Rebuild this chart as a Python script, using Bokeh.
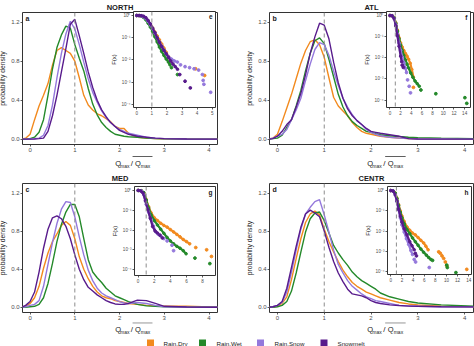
from bokeh.plotting import figure
from bokeh.layouts import column, row
from bokeh.models import (Range1d, FixedTicker, PrintfTickFormatter,
                          CustomJSTickFormatter, Span, Label, ColumnDataSource)
from bokeh.core.properties import value
from bokeh.embed import file_html
from bokeh.resources import INLINE

FONT = "Liberation Sans"
INK = "#1A1A1A"
TICK_INK = "#4D4D4D"
FRAME = "#333333"

SERIES = ["Rain.Dry", "Rain.Wet", "Rain.Snow", "Snowmelt"]
COLORS = ["#F28A1E", "#24892A", "#9478DC", "#581B8C"]
REGIONS = ["NORTH", "ATL", "MED", "CENTR"]
MAIN_LETTERS = ["a", "b", "c", "d"]
INSET_LETTERS = ["e", "f", "g", "h"]
MAIN_X_TICKS = [0, 1, 2, 3, 4]
MAIN_Y_TICKS = [0.0, 0.4, 0.8, 1.2]
INSET_Y_TICKS = [1e-4, 1e-3, 1e-2, 1e-1, 1.0]
INSET_X_TICKS = [[0, 1, 2, 3, 4, 5], [0, 2, 4, 6, 8, 10, 12, 14],
                 [0, 2, 4, 6, 8], [0, 2, 4, 6, 8, 10, 12, 14]]
THRESHOLD = 1.0
XLABEL_PARTS = ["Q", "max", "/", "Q", "max"]

# ---------------- density curves (x grid shared) ----------------
DENS_X = [-0.2, -0.1, 0.0, 0.1, 0.2, 0.3, 0.4, 0.5, 0.6, 0.7, 0.8, 0.9, 1.0,
          1.1, 1.2, 1.3, 1.4, 1.5, 1.6, 1.7, 1.8, 1.9, 2.0, 2.1, 2.2,
          2.4, 2.6, 2.8, 3.0, 3.5, 4.2]

north_dry = [0, 0.01, 0.05, 0.2, 0.34, 0.45, 0.57, 0.76, 0.91, 0.94, 0.91, 0.88, 0.80,
             0.63, 0.45, 0.35, 0.30, 0.26, 0.24, 0.21, 0.18, 0.13, 0.11, 0.11, 0.06,
             0.02, 0.01, 0.005, 0.003, 0.001, 0]
north_wet = [0, 0, 0.005, 0.02, 0.07, 0.2, 0.45, 0.72, 0.94, 1.07, 1.16, 1.14, 0.97,
             0.83, 0.70, 0.52, 0.36, 0.25, 0.17, 0.12, 0.08, 0.05, 0.04, 0.03, 0.025,
             0.02, 0.01, 0.005, 0.003, 0.001, 0]
north_snow = [0, 0, 0.002, 0.005, 0.01, 0.04, 0.14, 0.35, 0.63, 0.88, 1.08, 1.21, 1.13,
              0.97, 0.79, 0.62, 0.48, 0.38, 0.29, 0.22, 0.17, 0.13, 0.10, 0.08, 0.06,
              0.04, 0.02, 0.01, 0.005, 0.002, 0]
north_melt = [0, 0, 0, 0.002, 0.005, 0.01, 0.08, 0.24, 0.45, 0.69, 0.93, 1.18, 1.23,
              1.06, 0.88, 0.69, 0.53, 0.40, 0.30, 0.23, 0.17, 0.13, 0.09, 0.07, 0.05,
              0.03, 0.02, 0.01, 0.005, 0.002, 0]

atl_dry = [0, 0.01, 0.05, 0.18, 0.32, 0.46, 0.62, 0.78, 0.91, 1.0, 1.02, 0.97, 0.84,
           0.63, 0.43, 0.34, 0.29, 0.24, 0.17, 0.12, 0.08, 0.06, 0.05, 0.04, 0.03,
           0.02, 0.01, 0.005, 0.003, 0.002, 0]
atl_wet = [0, 0.005, 0.01, 0.04, 0.12, 0.2, 0.34, 0.5, 0.7, 0.88, 1.01, 1.04, 0.98,
           0.82, 0.64, 0.46, 0.33, 0.24, 0.18, 0.14, 0.11, 0.08, 0.07, 0.055, 0.045,
           0.035, 0.027, 0.02, 0.016, 0.01, 0.005]
atl_snow = [0, 0.01, 0.03, 0.05, 0.1, 0.2, 0.3, 0.42, 0.6, 0.77, 0.92, 0.99, 0.97,
            0.86, 0.7, 0.55, 0.42, 0.33, 0.25, 0.19, 0.15, 0.1, 0.07, 0.05, 0.035,
            0.02, 0.01, 0.005, 0.002, 0.001, 0]
atl_melt = [0, 0.005, 0.03, 0.08, 0.15, 0.2, 0.33, 0.47, 0.66, 0.88, 1.05, 1.19, 1.17,
            1.03, 0.79, 0.58, 0.42, 0.31, 0.24, 0.19, 0.15, 0.11, 0.08, 0.07, 0.06,
            0.045, 0.03, 0.005, 0.001, 0, 0]

med_dry = [0, 0.01, 0.04, 0.1, 0.22, 0.41, 0.57, 0.69, 0.77, 0.86, 0.9, 0.86, 0.72,
           0.53, 0.4, 0.3, 0.22, 0.16, 0.12, 0.1, 0.09, 0.07, 0.06, 0.05, 0.04,
           0.03, 0.02, 0.015, 0.01, 0.01, 0]
med_wet = [0, 0, 0.005, 0.01, 0.03, 0.1, 0.25, 0.46, 0.69, 0.87, 1.0, 1.08, 1.08,
           0.95, 0.72, 0.5, 0.37, 0.31, 0.26, 0.2, 0.16, 0.12, 0.1, 0.08, 0.06,
           0.03, 0.015, 0.01, 0.005, 0.002, 0]
med_snow = [0, 0.005, 0.02, 0.03, 0.07, 0.22, 0.45, 0.68, 0.88, 1.03, 1.11, 1.1, 0.95,
            0.74, 0.55, 0.39, 0.28, 0.2, 0.15, 0.12, 0.1, 0.08, 0.06, 0.045, 0.04,
            0.05, 0.04, 0.02, 0.005, 0.002, 0]
med_melt = [0, 0.02, 0.06, 0.16, 0.37, 0.62, 0.82, 0.94, 0.96, 0.93, 0.85, 0.72, 0.55,
            0.4, 0.29, 0.21, 0.17, 0.13, 0.1, 0.07, 0.05, 0.035, 0.03, 0.03, 0.04,
            0.075, 0.07, 0.04, 0.01, 0.002, 0]

centr_dry = [0, 0.002, 0.01, 0.04, 0.11, 0.29, 0.51, 0.72, 0.89, 0.98, 1.01, 0.97, 0.82,
             0.69, 0.58, 0.48, 0.39, 0.32, 0.26, 0.22, 0.19, 0.16, 0.14, 0.12, 0.1,
             0.075, 0.05, 0.035, 0.025, 0.01, 0.004]
centr_wet = [0, 0, 0.005, 0.02, 0.06, 0.17, 0.36, 0.58, 0.79, 0.93, 0.99, 1.0, 0.91,
             0.78, 0.65, 0.57, 0.5, 0.44, 0.37, 0.32, 0.28, 0.25, 0.22, 0.19, 0.15,
             0.11, 0.085, 0.06, 0.045, 0.025, 0.01]
centr_snow = [0, 0.005, 0.02, 0.05, 0.16, 0.37, 0.6, 0.82, 0.98, 1.05, 1.11, 1.13, 0.97,
              0.79, 0.6, 0.45, 0.36, 0.28, 0.22, 0.18, 0.14, 0.11, 0.09, 0.07, 0.06,
              0.04, 0.02, 0.015, 0.01, 0.005, 0.002]
centr_melt = [0, 0.005, 0.02, 0.06, 0.2, 0.42, 0.64, 0.84, 0.98, 1.02, 0.99, 0.95, 0.8,
              0.63, 0.48, 0.36, 0.27, 0.19, 0.14, 0.13, 0.12, 0.1, 0.07, 0.05, 0.04,
              0.025, 0.018, 0.012, 0.01, 0.006, 0.004]

# ---------------- inset exceedance points: dense part + sparse tail ----------------
north_dry_x = [0.0, 0.15, 0.3, 0.45, 0.6, 0.75, 0.9, 1.05, 1.2, 1.35, 1.5, 1.65, 1.8, 1.95, 2.1, 2.25]
north_dry_F = [1.0, 0.99, 0.95, 0.86, 0.72, 0.55, 0.40, 0.27, 0.18, 0.12, 0.08, 0.052, 0.034, 0.022, 0.014, 0.009]
north_dry_tx = [3.9, 4.5]
north_dry_tF = [0.004, 0.002]
north_wet_x = [0.0, 0.15, 0.3, 0.45, 0.6, 0.75, 0.9, 1.05, 1.2, 1.35, 1.5, 1.65, 1.8, 1.95, 2.1, 2.2]
north_wet_F = [1.0, 0.99, 0.94, 0.82, 0.64, 0.45, 0.30, 0.19, 0.11, 0.065, 0.038, 0.024, 0.016, 0.011, 0.008, 0.006]
north_wet_tx = [2.3, 2.7]
north_wet_tF = [0.0045, 0.0022]
north_snow_x = [0.0, 0.15, 0.3, 0.45, 0.6, 0.75, 0.9, 1.05, 1.2, 1.35, 1.5, 1.65, 1.8, 1.95, 2.1, 2.3, 2.5, 2.7]
north_snow_F = [1.0, 0.99, 0.96, 0.88, 0.73, 0.55, 0.38, 0.25, 0.16, 0.1, 0.065, 0.042, 0.028, 0.019, 0.014, 0.011, 0.009, 0.008]
north_snow_tx = [2.9, 3.2, 3.5, 3.8, 4.1, 4.35, 4.4, 4.45, 4.9]
north_snow_tF = [0.006, 0.005, 0.0045, 0.004, 0.0035, 0.0022, 0.0012, 0.0008, 0.00035]
north_melt_x = [0.0, 0.15, 0.3, 0.45, 0.6, 0.75, 0.9, 1.05, 1.2, 1.35, 1.5, 1.65, 1.8, 1.95, 2.1, 2.25, 2.4, 2.55, 2.7]
north_melt_F = [1.0, 1.0, 0.98, 0.93, 0.8, 0.6, 0.42, 0.27, 0.17, 0.1, 0.062, 0.04, 0.027, 0.019, 0.013, 0.009, 0.0065, 0.005, 0.0038]
north_melt_tx = [2.85, 3.2, 3.55]
north_melt_tF = [0.0022, 0.0011, 0.00055]

atl_dry_x = [0.0, 0.4, 0.8, 1.1, 1.4, 1.7, 2.0, 2.3, 2.6, 2.9, 3.2, 3.5, 3.8, 4.1, 4.4]
atl_dry_F = [1.0, 0.98, 0.8, 0.45, 0.2, 0.09, 0.05, 0.032, 0.022, 0.016, 0.012, 0.0085, 0.0055, 0.0028, 0.0012]
atl_dry_tx = [4.4]
atl_dry_tF = [0.0004]
atl_wet_x = [0.0, 0.4, 0.8, 1.1, 1.4, 1.7, 2.0, 2.3, 2.6, 2.9, 3.2, 3.5, 3.9, 4.3, 4.7, 5.1, 5.5]
atl_wet_F = [1.0, 0.98, 0.78, 0.42, 0.18, 0.08, 0.04, 0.022, 0.013, 0.008, 0.005, 0.0033, 0.0019, 0.0012, 0.0008, 0.0006, 0.00045]
atl_wet_tx = [5.8, 8.6, 14.05, 14.4]
atl_wet_tF = [0.0003, 0.0002, 0.00013, 0.00007]
atl_snow_x = [0.0, 0.4, 0.8, 1.1, 1.4, 1.7, 2.0, 2.3, 2.6, 2.9, 3.1]
atl_snow_F = [1.0, 0.97, 0.72, 0.35, 0.13, 0.05, 0.022, 0.011, 0.006, 0.0032, 0.002]
atl_snow_tx = [3.3, 3.6, 3.85]
atl_snow_tF = [0.0009, 0.00045, 0.00022]
atl_melt_x = [0.0, 0.4, 0.8, 1.1, 1.4, 1.7, 2.0, 2.2]
atl_melt_F = [1.0, 0.97, 0.7, 0.32, 0.11, 0.035, 0.012, 0.0065]
atl_melt_tx = [2.3, 2.5]
atl_melt_tF = [0.0045, 0.0035]

med_dry_x = [0.0, 0.4, 0.7, 1.0, 1.3, 1.6, 2.0, 2.4, 2.8, 3.2, 3.6, 4.0, 4.4, 4.8, 5.2, 5.6, 6.0, 6.4]
med_dry_F = [1.0, 0.96, 0.75, 0.35, 0.15, 0.075, 0.042, 0.03, 0.022, 0.017, 0.014, 0.0105, 0.008, 0.006, 0.0045, 0.0033, 0.0026, 0.002]
med_dry_tx = [7.15, 8.5, 9.1]
med_dry_tF = [0.0013, 0.001, 0.00046]
med_wet_x = [0.0, 0.4, 0.7, 1.0, 1.3, 1.6, 2.0, 2.4, 2.8, 3.2, 3.6, 4.0, 4.4, 4.8, 5.2, 5.6, 5.95]
med_wet_F = [1.0, 0.97, 0.78, 0.33, 0.13, 0.06, 0.03, 0.018, 0.011, 0.0068, 0.0042, 0.0028, 0.002, 0.0015, 0.0012, 0.0009, 0.00063]
med_wet_tx = [7.05, 8.9]
med_wet_tF = [0.00038, 0.0002]
med_snow_x = [0.0, 0.4, 0.7, 1.0, 1.3, 1.6, 1.9, 2.2, 2.5]
med_snow_F = [1.0, 0.93, 0.6, 0.2, 0.08, 0.035, 0.016, 0.008, 0.006]
med_snow_tx = [2.8, 3.2, 3.6, 4.2, 4.4]
med_snow_tF = [0.005, 0.0037, 0.0028, 0.0017, 0.0009]
med_melt_x = [0.0, 0.3, 0.6, 0.9, 1.2, 1.5, 1.8, 2.1, 2.4]
med_melt_F = [1.0, 0.95, 0.75, 0.3, 0.11, 0.04, 0.015, 0.009, 0.007]
med_melt_tx = [2.7, 3.0]
med_melt_tF = [0.0055, 0.004]

centr_dry_x = [0.0, 0.4, 0.8, 1.1, 1.4, 1.7, 2.0, 2.4, 2.9, 3.4, 3.9, 4.4, 4.9, 5.4, 5.9, 6.3, 6.7]
centr_dry_F = [1.0, 0.97, 0.75, 0.42, 0.2, 0.1, 0.055, 0.03, 0.016, 0.011, 0.008, 0.0065, 0.0048, 0.0035, 0.0026, 0.0018, 0.0012]
centr_dry_tx = [8.6, 8.9, 9.2, 9.5, 9.8, 10.05, 13.65]
centr_dry_tF = [0.00095, 0.0008, 0.0006, 0.00045, 0.0003, 0.0002, 0.00013]
centr_wet_x = [0.0, 0.4, 0.8, 1.1, 1.4, 1.7, 2.0, 2.4, 2.9, 3.4, 3.9, 4.4, 4.9, 5.4, 5.9, 6.4, 6.8, 7.2]
centr_wet_F = [1.0, 0.97, 0.74, 0.4, 0.18, 0.085, 0.045, 0.023, 0.012, 0.0075, 0.0046, 0.003, 0.002, 0.0013, 0.0009, 0.00065, 0.0005, 0.0004]
centr_wet_tx = [7.5, 10.05, 10.15, 11.7]
centr_wet_tF = [0.00036, 0.00021, 0.00016, 0.00009]
centr_snow_x = [0.0, 0.4, 0.8, 1.1, 1.4, 1.7, 2.0, 2.4, 2.8, 3.2, 3.6, 3.9]
centr_snow_F = [1.0, 0.95, 0.6, 0.28, 0.11, 0.045, 0.02, 0.009, 0.0042, 0.0022, 0.0011, 0.0007]
centr_snow_tx = [4.2, 4.45, 6.9]
centr_snow_tF = [0.0004, 0.0003, 0.00016]
centr_melt_x = [0.0, 0.4, 0.8, 1.1, 1.4, 1.7, 2.0, 2.4, 2.9, 3.4, 3.8, 4.2]
centr_melt_F = [1.0, 0.95, 0.62, 0.3, 0.12, 0.055, 0.028, 0.013, 0.0065, 0.003, 0.0019, 0.0012]
centr_melt_tx = [4.4, 4.6]
centr_melt_tF = [0.0008, 0.0006]

DENSITIES = [
    [north_dry, north_wet, north_snow, north_melt],
    [atl_dry, atl_wet, atl_snow, atl_melt],
    [med_dry, med_wet, med_snow, med_melt],
    [centr_dry, centr_wet, centr_snow, centr_melt],
]
INSETS = [
    [(north_dry_x, north_dry_F, north_dry_tx, north_dry_tF),
     (north_wet_x, north_wet_F, north_wet_tx, north_wet_tF),
     (north_snow_x, north_snow_F, north_snow_tx, north_snow_tF),
     (north_melt_x, north_melt_F, north_melt_tx, north_melt_tF)],
    [(atl_dry_x, atl_dry_F, atl_dry_tx, atl_dry_tF),
     (atl_wet_x, atl_wet_F, atl_wet_tx, atl_wet_tF),
     (atl_snow_x, atl_snow_F, atl_snow_tx, atl_snow_tF),
     (atl_melt_x, atl_melt_F, atl_melt_tx, atl_melt_tF)],
    [(med_dry_x, med_dry_F, med_dry_tx, med_dry_tF),
     (med_wet_x, med_wet_F, med_wet_tx, med_wet_tF),
     (med_snow_x, med_snow_F, med_snow_tx, med_snow_tF),
     (med_melt_x, med_melt_F, med_melt_tx, med_melt_tF)],
    [(centr_dry_x, centr_dry_F, centr_dry_tx, centr_dry_tF),
     (centr_wet_x, centr_wet_F, centr_wet_tx, centr_wet_tF),
     (centr_snow_x, centr_snow_F, centr_snow_tx, centr_snow_tF),
     (centr_melt_x, centr_melt_F, centr_melt_tx, centr_melt_tF)],
]

SUP_JS = """
const e = Math.round(Math.log10(tick));
const m = {"-": "\u207b", "0": "\u2070", "1": "\u00b9", "2": "\u00b2", "3": "\u00b3",
           "4": "\u2074", "5": "\u2075", "6": "\u2076", "7": "\u2077", "8": "\u2078", "9": "\u2079"};
return "10" + String(e).split("").map(c => m[c]).join("");
"""


def style_axes(p, size):
    for ax in (p.xaxis[0], p.yaxis[0]):
        ax.axis_line_color = None
        ax.major_tick_line_color = FRAME
        ax.major_tick_line_width = 0.8
        ax.major_tick_in = 0
        ax.major_tick_out = 2
        ax.minor_tick_line_color = None
        ax.major_label_text_font = FONT
        ax.major_label_text_font_size = size
        ax.major_label_text_color = TICK_INK
        ax.major_label_standoff = 1


def main_panel(i, W, H, bl, br, bt, bb, shift):
    x0, x1, y0, y1 = -0.17, 4.19, -0.055, 1.30
    p = figure(width=W + shift, height=H, x_range=Range1d(x0, x1), y_range=Range1d(y0, y1),
               output_backend="svg", toolbar_location=None, title=REGIONS[i],
               min_border_left=bl + shift, min_border_right=br, min_border_top=bt,
               min_border_bottom=bb)
    if shift:
        p.margin = (0, 0, 0, -shift)
    p.title.align = "center"
    p.title.text_font = FONT
    p.title.text_font_size = "7.5px"
    p.title.text_font_style = "bold"
    p.title.text_color = INK
    p.title.standoff = 1
    p.outline_line_color = FRAME
    p.outline_line_width = 1
    p.background_fill_color = "white"
    p.border_fill_color = "white"
    p.xgrid.visible = False
    p.ygrid.visible = False
    style_axes(p, "6px")
    p.xaxis.ticker = FixedTicker(ticks=MAIN_X_TICKS)
    p.yaxis.ticker = FixedTicker(ticks=MAIN_Y_TICKS)
    p.yaxis.formatter = PrintfTickFormatter(format="%.1f")
    p.yaxis.axis_label = "probability density"
    p.yaxis.axis_label_text_font = FONT
    p.yaxis.axis_label_text_font_size = "6.8px"
    p.yaxis.axis_label_text_font_style = "normal"
    p.yaxis.axis_label_text_color = INK
    p.yaxis.axis_label_standoff = 2

    for ys, c in zip(DENSITIES[i], COLORS):
        p.line(DENS_X, ys, line_color=c, line_width=1.4)
    p.add_layout(Span(location=THRESHOLD, dimension="height", line_color="#8C8C8C",
                      line_width=1, line_dash="4 3"))
    p.add_layout(Label(x=x0, y=y1, x_offset=3, y_offset=-2, text=MAIN_LETTERS[i],
                       text_font=FONT, text_font_size="7px", text_font_style="bold",
                       text_color=INK, text_align="left", text_baseline="top"))
    return p


def xlabel_strip(W, h, cx, yq):
    """Strip below a panel holding the label Q_max / overline(Q_max)."""
    s = figure(width=W, height=h, x_range=Range1d(0, W), y_range=Range1d(0, h),
               output_backend="svg", toolbar_location=None, min_border=0,
               x_axis_location=None, y_axis_location=None)
    s.xgrid.visible = False
    s.ygrid.visible = False
    s.outline_line_color = None
    src = ColumnDataSource(dict(
        x=[cx - 21.5, cx - 15.5, cx - 2.8, cx + 2.5, cx + 9.5],
        y=[yq, yq - 2.5, yq, yq, yq - 2.5],
        t=XLABEL_PARTS,
        fs=["7.5px", "5px", "8px", "7.5px", "5px"],
    ))
    s.text(x="x", y="y", text="t", text_font_size="fs", source=src,
           text_font=value(FONT), text_color=INK, text_baseline="middle",
           text_align="left")
    s.segment(x0=[cx - 0.5], y0=[yq + 7], x1=[cx + 23.5], y1=[yq + 7],
              line_color=INK, line_width=0.7)
    return s


def inset_panel(i, xr, yr, fw, fh, bl=20, br=1, bt=1, bb=10):
    p = figure(width=fw + bl + br, height=fh + bt + bb,
               x_range=Range1d(*xr), y_range=Range1d(10 ** yr[0], 10 ** yr[1]),
               y_axis_type="log", output_backend="svg", toolbar_location=None,
               min_border_left=bl, min_border_right=br, min_border_top=bt,
               min_border_bottom=bb)
    p.border_fill_alpha = 0
    p.background_fill_color = "white"
    p.outline_line_color = FRAME
    p.outline_line_width = 1
    p.xgrid.visible = False
    p.ygrid.visible = False
    style_axes(p, "4.6px")
    p.xaxis.ticker = FixedTicker(ticks=INSET_X_TICKS[i])
    p.yaxis.ticker = FixedTicker(ticks=INSET_Y_TICKS)
    p.yaxis.formatter = CustomJSTickFormatter(code=SUP_JS)
    p.yaxis.axis_label = "F(x)"
    p.yaxis.axis_label_text_font = FONT
    p.yaxis.axis_label_text_font_size = "6px"
    p.yaxis.axis_label_text_font_style = "normal"
    p.yaxis.axis_label_text_color = INK
    p.yaxis.axis_label_standoff = 1
    p.add_layout(Span(location=THRESHOLD, dimension="height", line_color="#8C8C8C",
                      line_width=1, line_dash="4 3"))
    for (dx, dF, tx, tF), c in zip(INSETS[i], COLORS):
        p.line(dx, dF, line_color=c, line_width=2.2)
        p.scatter(dx, dF, size=2.6, color=c)
        p.scatter(tx, tF, size=2.8, color=c)
    p.add_layout(Label(x=xr[1], y=10 ** yr[1], x_offset=-3, y_offset=-2,
                       text=INSET_LETTERS[i], text_font=FONT, text_font_size="6.5px",
                       text_font_style="bold", text_color=INK, text_align="right",
                       text_baseline="top"))
    return p


def stack(main, ins, strip, left, top, main_h):
    ins.margin = (top - main_h, 0, main_h - top - ins.height, left)
    return column(main, ins, strip)


# main panels: (index, width, height, border l/r/t/b, left shift)
pa = main_panel(0, 235, 155, 22, 10, 9, 11, 8)
pb = main_panel(1, 239, 155, 34, 1, 9, 11, 0)
pc = main_panel(2, 235, 152, 22, 10, 13, 10, 8)
pd = main_panel(3, 239, 152, 34, 1, 13, 10, 0)

# insets (frame size, ranges)
ie = inset_panel(0, (-0.22, 5.22), (-4.14, 0.18), 101, 96)
if_ = inset_panel(1, (-0.65, 15.1), (-4.35, 0.19), 98, 96)
ig = inset_panel(2, (-0.45, 9.6), (-4.3, 0.2), 100, 89)
ih = inset_panel(3, (-0.6, 14.5), (-4.14, 0.2), 98, 88)

# x-axis label strips
sa = xlabel_strip(235, 15, 123.5, 7)
sb = xlabel_strip(239, 15, 136.0, 7)
sc = xlabel_strip(235, 13, 123.5, 5.7)
sd = xlabel_strip(239, 13, 136.0, 5.7)

colA = stack(pa, ie, sa, 103, 10, 155)
colB = stack(pb, if_, sb, 117, 10, 155)
colC = stack(pc, ig, sc, 104, 15, 152)
colD = stack(pd, ih, sd, 118, 15, 152)

# legend strip
leg = figure(width=474, height=11, x_range=Range1d(0, 474), y_range=Range1d(0, 11),
             output_backend="svg", toolbar_location=None, min_border=0,
             x_axis_location=None, y_axis_location=None)
leg.xgrid.visible = False
leg.ygrid.visible = False
leg.outline_line_color = None
sq_x = [150.0, 202.0, 260.0, 323.5]
tx_x = [163, 216, 274, 337]
leg.rect(x=sq_x, y=[4] * 4, width=7, height=8, fill_color=COLORS, line_color=None)
leg.text(x=tx_x, y=[4.5] * 4, text=SERIES, text_font=value(FONT),
         text_font_size="6.2px", text_color=INK, text_baseline="middle")

layout = column(row(colA, colB), row(colC, colD), leg)

open("out.html", "w").write(file_html(layout, INLINE))
